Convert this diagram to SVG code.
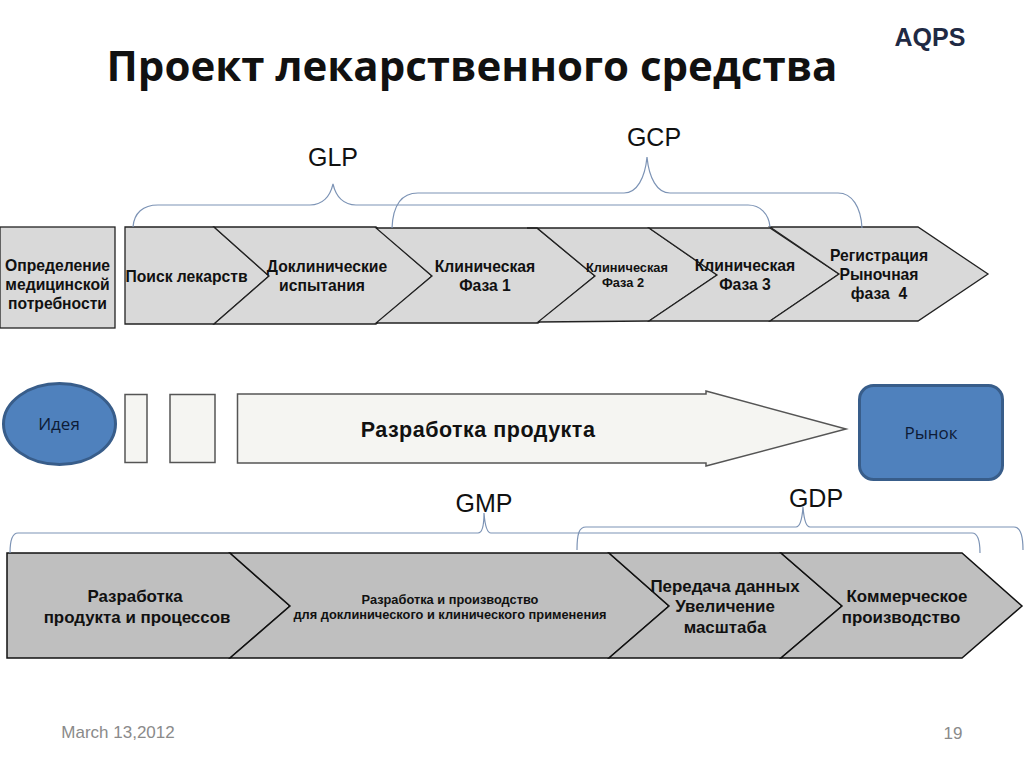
<svg xmlns="http://www.w3.org/2000/svg" width="1024" height="768" viewBox="0 0 1024 768">
<style>
text{font-family:"Liberation Sans",Arial,sans-serif;fill:#111;text-anchor:middle;white-space:pre}
.b{font-weight:bold}
.c1{fill:#d9d9d9;stroke:#222;stroke-width:1.3}
.c2{fill:#bfbfbf;stroke:#111;stroke-width:1.5}
.p{fill:#f5f5f2;stroke:#555;stroke-width:1.5}
.blue{fill:#4f81bd;stroke:#385d8a;stroke-width:3}
.br{fill:none;stroke:#7c93b5;stroke-width:1.2}
.t15{font-size:15.7px;font-weight:bold}
.t17{font-size:16.9px;font-weight:bold}
.t12{font-size:12.8px;font-weight:bold}
.t13{font-size:12.8px;font-weight:bold}
.lab{font-size:25px}
.cal{font-family:"Open Sans","Noto Sans",sans-serif;fill:#0d1b36;font-size:17px}
.foot{fill:#8a8a8a;font-size:17px}
</style>
<rect width="1024" height="768" fill="#fff"/>
<text id="title" x="472" y="81" style="font-family:'Open Sans','Noto Sans',sans-serif;font-weight:700" font-size="42">Проект лекарственного средства</text>
<text id="logo" x="930" y="46" class="b" font-size="25" style="fill:#1f2a44">AQPS</text>

<g id="need"><rect x="0" y="227" width="115" height="101" class="c1"/>
<text x="57.500" y="271" class="t15">Определение</text><text x="57.500" y="290" class="t15">медицинской</text><text x="57.500" y="309" class="t15">потребности</text></g>

<g id="search"><polygon class="c1" points="125,227 214,227 269,276 214,324 125,324"/>
<text x="186.500" y="282" class="t15">Поиск лекарств</text></g>
<g id="preclin"><polygon class="c1" points="214,227 376,227 432,276 376,324 214,324 269,276"/>
<text x="327" y="272" class="t15">Доклинические</text><text x="322" y="291" class="t15">испытания</text></g>
<g id="phase1"><polygon class="c1" points="376,228 537,228 595,276 538,323 376,323 432,276"/>
<text x="485" y="272" class="t15">Клиническая</text><text x="485" y="291" class="t15">Фаза 1</text></g>
<g id="phase2"><polygon class="c1" points="527,228 649,228 717,275 649,321 538,322 595,276 537,228"/>
<text x="627" y="272" class="t13">Клиническая</text><text x="623" y="287" class="t13">Фаза 2</text></g>
<g id="phase3"><polygon class="c1" points="649,228 770,228 839,274 770,321 649,321 717,275"/>
<text x="745" y="271" class="t15">Клиническая</text><text x="745" y="290" class="t15">Фаза 3</text></g>
<g id="reg"><polygon class="c1" points="770,227 918,227 988,274 918,321 770,321 839,274"/>
<text x="879" y="261" class="t15">Регистрация</text><text x="879" y="280" class="t15">Рыночная</text><text x="879" y="299" class="t15">фаза  4</text></g>

<g id="idea"><ellipse cx="59.500" cy="424" rx="56" ry="40.500" class="blue"/>
<text x="59" y="430" class="cal">Идея</text></g>
<g id="s1"><rect x="125" y="394.500" width="22" height="68" class="p"/></g>
<g id="s2"><rect x="170" y="394.500" width="45" height="68" class="p"/></g>
<g id="dev"><polygon class="p" points="237.500,394 706,394 706,391 846,429 706,466 706,463 237.500,463"/>
<text x="478" y="437" font-size="21.500" letter-spacing="0.500" class="b">Разработка продукта</text></g>
<g id="market"><rect x="859.500" y="385.500" width="143" height="94" rx="14" class="blue"/>
<text x="931" y="439" class="cal">Рынок</text></g>

<g id="proc"><polygon class="c2" points="7,553 230,553 290,606 230,658 7,658"/>
<text x="135" y="602" class="t17">Разработка</text><text x="137" y="623" class="t17">продукта и процессов</text></g>
<g id="mfg"><polygon class="c2" points="230,553 609,553 669,606 609,658 230,658 290,606"/>
<text x="450" y="604" class="t12">Разработка и производство</text><text x="450" y="619" class="t12">для доклинического и клинического применения</text></g>
<g id="transfer"><polygon class="c2" points="609,553 781,553 842,606 781,658 609,658 669,606"/>
<text x="725" y="592" class="t17">Передача данных</text><text x="725" y="612" class="t17">Увеличение</text><text x="725" y="633" class="t17">масштаба</text></g>
<g id="comm"><polygon class="c2" points="781,553 962,553 1022,606 962,658 781,658 842,606"/>
<text x="907" y="602" class="t17">Коммерческое</text><text x="901" y="623" class="t17">производство</text></g>

<g id="connectors">
<path class="br" d="M133,227C134,213 143,205 158,205H310C322,205 330,197 333,184C336,197 344,205 356,205H748C760,205 769,214 770,227"/>
<path class="br" d="M392,228C393,205 402,193 418,193H624C637,193 645,178 647,157C649,178 657,193 670,193H838C852,193 861,207 862,228"/>
<path class="br" d="M10,553C10,540 12,533 18,533H478C482,533 484,526 484,513C485,526 487,533 491,533H972C978,533 980,540 980,553"/>
<path class="br" d="M577,550C577,534 579,527 586,527H796C800,527 802,520 803,507C804,520 806,527 810,527H1014C1020,527 1023,534 1023,550"/>
</g>
<text id="glp" x="333" y="166" class="lab">GLP</text>
<text id="gcp" x="654" y="146" class="lab">GCP</text>
<text id="gmp" x="484" y="512" class="lab">GMP</text>
<text id="gdp" x="816" y="507" class="lab">GDP</text>
<text id="date" x="118" y="738" class="foot">March 13,2012</text>
<text id="page" x="953" y="739" class="foot">19</text>
</svg>
